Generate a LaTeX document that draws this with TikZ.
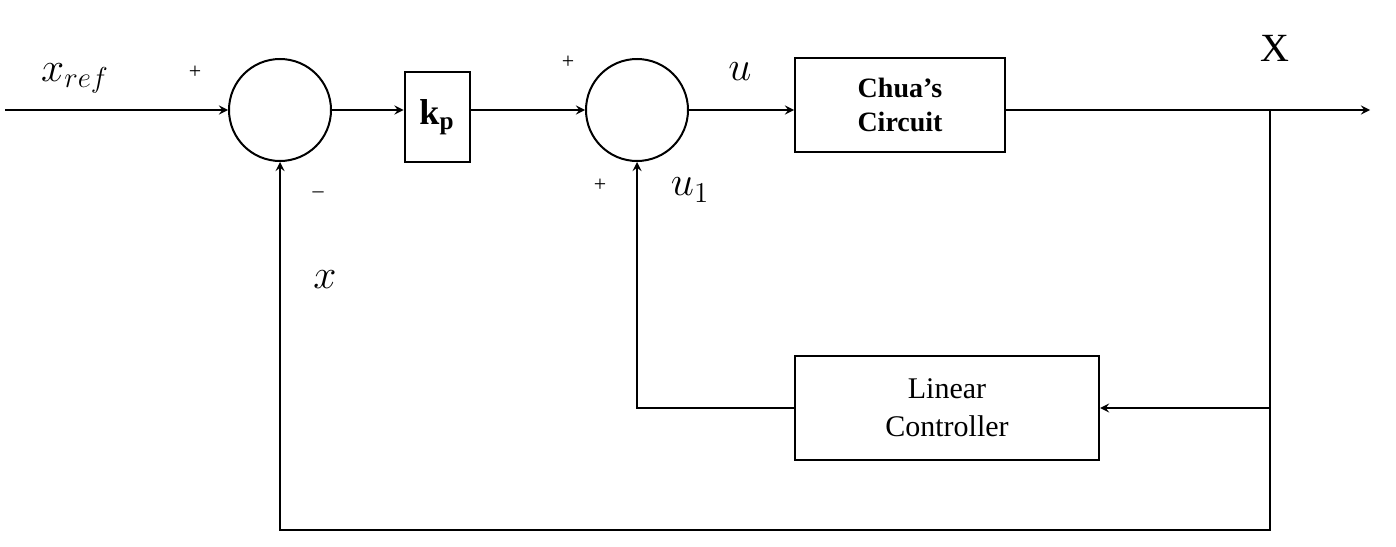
\documentclass[tikz,border=0pt]{standalone}
\usepackage{fontspec}
\setmainfont{Liberation Serif}
\begin{document}
\begin{tikzpicture}[x=0.5pt,y=-0.5pt,line width=1pt,
  blk/.style={draw,minimum width=#1,inner sep=0pt},
  sum/.style={draw,circle,minimum size=51pt,inner sep=0pt},
  arr/.style={->,>=stealth},
  lab/.style={font=\fontsize{22}{24}\selectfont},
  sgn/.style={font=\fontsize{11}{12}\selectfont}]
\useasboundingbox (0,0) rectangle (1396,546);
\coordinate (in) at (5,110);
\node[sum] (s1) at (280,110) {};
\node[blk=32.5pt,minimum height=45pt] (kp) at (437,117) {\fontsize{18}{20}\selectfont\textbf{k}$_{\mathbf p}$};
\node[sum] (s2) at (637,110) {};
\node[blk=105pt,minimum height=47pt,align=center,font=\fontsize{14}{17}\selectfont\bfseries] (chua) at (900,105) {Chua's\\Circuit};
\node[blk=152pt,minimum height=52pt,align=center,font=\fontsize{15}{19}\selectfont] (lin) at (947,408) {Linear\\Controller};
\coordinate (out) at (1370,110);
\coordinate (j) at (1270,110);
\coordinate (b) at (1270,530);
\draw[arr] (in) -- (s1);
\draw[arr] (s1.east) -- (kp.west|-s1.east);
\draw[arr] (kp.east|-s2) -- (s2);
\draw[arr] (s2) -- (chua.west|-s2);
\draw[arr] (chua.east|-out) -- (out);
\draw[arr] (j) |- (lin.east);
\draw[arr] (lin.west) -| (s2.south);
\draw[arr] (j) -- (b) -| (s1.south);
\node[lab] at (75,78) {$x_{ref}$};
\node[sgn] at (195,72) {+};
\node[sgn] at (568,62) {+};
\node[lab] at (740,72) {$u$};
\node[font=\fontsize{20}{22}\selectfont] at (1275,48) {X};
\node[sgn] at (318,195) {--};
\node[lab] at (325,280) {$x$};
\node[sgn] at (600,185) {+};
\node[lab] at (690,190) {$u_1$};
\end{tikzpicture}
\end{document}
